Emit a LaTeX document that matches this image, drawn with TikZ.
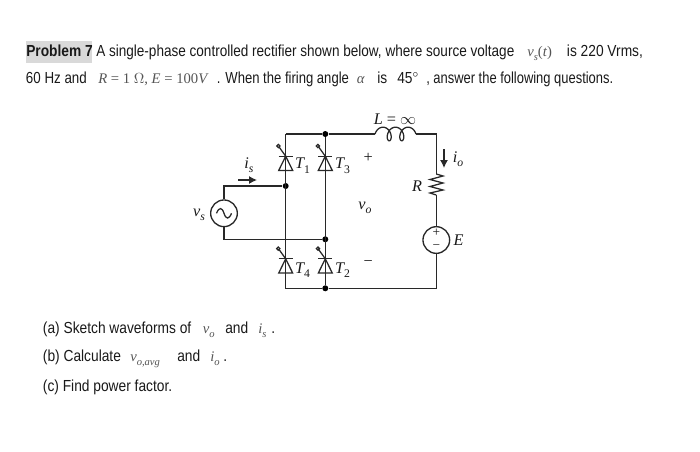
\documentclass[tikz,border=0pt]{standalone}
\usepackage{fontspec}
\usepackage{tikz}
\setmainfont[FakeStretch=0.86]{Liberation Sans}
\newfontfamily\symfont{Liberation Serif}
\usetikzlibrary{arrows.meta}
\definecolor{wire}{RGB}{40,40,40}
\definecolor{ink}{RGB}{25,25,25}
\definecolor{symink}{RGB}{85,85,85}
\definecolor{tag}{RGB}{217,217,217}
% italic letter with a lowered index
\newcommand{\sym}[2]{{\symfont\itshape #1\raisebox{-0.28em}{\scalebox{0.72}{#2}}}}
\tikzset{
  txt/.style={anchor=base west,inner sep=0pt,text=ink,font=\fontsize{12}{14}\selectfont},
  eqn/.style={anchor=base west,inner sep=0pt,text=symink,font=\fontsize{11}{13}\selectfont\symfont},
  lab/.style={inner sep=0pt,text=ink,font=\fontsize{12.2}{14}\selectfont\symfont},
  sgn/.style={inner sep=0pt,text=ink,font=\fontsize{10}{10}\selectfont\symfont},
  dot/.style={circle,fill=black,inner sep=0pt,minimum size=4.5pt},
  src/.style={circle,draw=wire,line width=1pt,fill=white,inner sep=0pt,minimum size=20pt},
  line/.style={draw=wire,line width=0.95pt},
  thyr/.pic={
    \draw [line] (-7,14.3)--(7,14.3)--(0,0)--cycle;
    \draw [line] (-7,0)--(7,0);
    \draw [line] (0,0)--(-6.6,-9.2);
    \draw [line,fill=white] (-7.4,-10.2) circle (1.6);
  }
}
\begin{document}
\begin{tikzpicture}[x=0.75pt,y=-0.75pt]
\useasboundingbox (0,0) rectangle (700,451);
% problem statement
\fill [tag] (25.7,40.7) rectangle (91.7,62.7);
\node [txt,font=\fontsize{12}{14}\selectfont\bfseries] (head) at (26,56.7) {Problem 7};
\node [txt] (lineA) at (96,56.7) {\scalebox{0.985}[1]{A single-phase controlled rectifier shown below, where source voltage}};
\node [eqn] (vst) at (527,56.7) {\sym{v}{s}(\textit{t})};
\node [txt] (lineB) at (566.7,56.7) {is 220 Vrms,};
\node [txt] (lineC) at (25.7,83) {\scalebox{0.97}[1]{60 Hz and}};
\node [eqn] (vals) at (98,83) {\textit{R} = 1 $\Omega$, \textit{E} = 100\textit{V}};
\node [txt] (lineD) at (216.7,83) {\scalebox{0.95}[1]{. When the firing angle}};
\node [eqn] (alpha) at (356.7,83) {\textit{α}};
\node [txt] (lineE) at (377,83) {is};
\node [txt] (deg) at (397,83) {45$^{\circ}$};
\node [txt] (lineF) at (426,83) {\scalebox{0.94}[1]{, answer the following questions.}};
% questions
\node [txt] (qa) at (42.7,333) {(a) Sketch waveforms of};
\node [eqn] (qav) at (202.7,333) {\sym{v}{o}};
\node [txt] (qaw) at (225,333) {and};
\node [eqn] (qai) at (258,333) {\sym{i}{s}};
\node [txt] (qae) at (271,333) {.};
\node [txt] (qb) at (42.7,361) {(b) Calculate};
\node [eqn] (qbv) at (130,361) {\sym{v}{o,avg}};
\node [txt] (qbw) at (177,361) {and};
\node [eqn] (qbi) at (210,361) {\sym{i}{o}};
\node [txt] (qbe) at (223,361) {.};
\node [txt] (qc) at (42.7,391.7) {(c) Find power factor.};
% circuit
\coordinate (tl) at (285.7,134);
\coordinate (tr) at (436.3,134);
\coordinate (bl) at (285.7,288.3);
\coordinate (br) at (436.3,288.3);
\coordinate (lstart) at (375,134);
\coordinate (lend) at (416,134);
\coordinate (rtop) at (436.3,174);
\coordinate (rbot) at (436.3,195);
\node [dot] (tm) at (325.3,134) {};
\node [dot] (bm) at (325.3,288.3) {};
\node [dot] (jl) at (285.7,186) {};
\node [dot] (jr) at (325.3,239.3) {};
\node [src] (vsrc) at (224,213.3) {};
\node [src] (ebat) at (436.3,240) {};
\draw [line] (tl)--(bl)--(bm)--(br)--(ebat.south);
\draw [line] (tl)--(tm)--(lstart);
\draw [line] (tm)--(bm);
\draw [line] (lend)--(tr)--(rtop);
\draw [line] (rbot)--(ebat.north);
\draw [line] (vsrc.north)|-(jl);
\draw [line] (vsrc.south)|-(jr);
% inductor
\draw [line,domain=-450:450,samples=160,smooth] plot ({395.5+2.0*\x*pi/180+4.7*sin(\x)},{134-6.8*cos(\x)});
% resistor
\draw [line] (rtop)--(443,176)--(430,179.5)--(443,183)--(430,186.5)--(443,190)--(430,193)--(rbot);
% source and battery signs
\draw [line] (216.5,213.3) .. controls (219,207) and (222,207) .. (224,213.3) .. controls (226,219.6) and (229,219.6) .. (231.5,213.3);
\node [sgn] (eplus) at (436.3,233) {+};
\node [sgn] (eminus) at (436.3,247) {\textminus};
% thyristors
\foreach \px/\py in {285.7/156.2,325.3/156.2,285.7/258.8,325.3/258.8}
  \pic at (\px,\py) {thyr};
% arrows
\draw [wire,line width=0.9pt,-{Latex[length=6pt,width=6pt]}] (238,180)--(257,180);
\draw [wire,line width=0.9pt,-{Latex[length=6pt,width=6pt]}] (444,149)--(444,168);
% labels
\node [lab] (is) at (249,165) {\sym{i}{s}};
\node [lab] (io) at (458,159) {\sym{i}{o}};
\node [lab] (vs) at (199,215) {\sym{v}{s}};
\node [lab] (vo) at (365,208) {\sym{v}{o}};
\node [lab] (t1) at (302.5,165.7) {\sym{T}{\upshape 1}};
\node [lab] (t3) at (342.5,165.7) {\sym{T}{\upshape 3}};
\node [lab] (t4) at (302.5,270) {\sym{T}{\upshape 4}};
\node [lab] (t2) at (342.5,270) {\sym{T}{\upshape 2}};
\node [lab] (rl) at (417,186) {\textit{R}};
\node [lab] (el) at (458.5,240) {\textit{E}};
\node [lab] (ll) at (395,119.3) {\textit{L} = $\infty$};
\node [lab] (vplus) at (368.3,157.7) {+};
\node [lab] (vminus) at (368.3,264) {\textminus};
\end{tikzpicture}
\end{document}
